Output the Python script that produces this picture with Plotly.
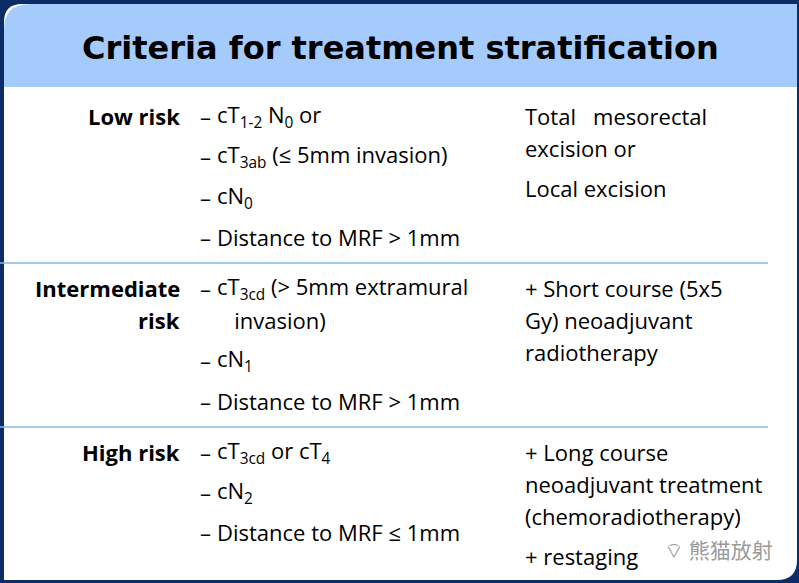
import plotly.graph_objects as go

# slide content
title = "Criteria for treatment stratification"
risk_labels = [["Low risk"], ["Intermediate", "risk"], ["High risk"]]
criteria = [
    ["cT<sub>1-2</sub> N<sub>0</sub> or", "cT<sub>3ab</sub> (≤ 5mm invasion)", "cN<sub>0</sub>",
     "Distance to MRF > 1mm"],
    ["cT<sub>3cd</sub> (> 5mm extramural", "   invasion)", "cN<sub>1</sub>", "Distance to MRF > 1mm"],
    ["cT<sub>3cd</sub> or cT<sub>4</sub>", "cN<sub>2</sub>", "Distance to MRF ≤ 1mm"],
]
criteria_dash = [[1, 1, 1, 1], [1, 0, 1, 1], [1, 1, 1]]
treatments = [
    ["Total   mesorectal", "excision or", "Local excision"],
    ["+ Short course (5x5", "Gy) neoadjuvant", "radiotherapy"],
    ["+ Long course", "neoadjuvant treatment", "(chemoradiotherapy)", "+ restaging"],
]

row_top = [116, 288, 452]
crit_y = [[116, 156, 197, 237], [288, 320, 360, 401], [452, 492, 532]]
treat_y = [[116, 148, 188], [288, 320, 352], [452, 484, 516, 556]]
separators = [263, 427]

font = "Open Sans"
fs = 22

fig = go.Figure()
shapes = [
    dict(type="path", path="M 22 4 L 797 4 L 797 560 Q 797 580 777 580 L 4 580 L 4 22 Q 4 4 22 4 Z",
         fillcolor="white", line=dict(width=0), layer="below"),
    dict(type="path", path="M 30 4 L 797 4 L 797 87 L 4 87 L 4 30 Q 4 4 30 4 Z",
         fillcolor="#a4cbfb", line=dict(width=0), layer="below"),
]
for s in separators:
    shapes.append(dict(type="line", x0=0, x1=768, y0=s, y1=s, line=dict(color="#86b6e8", width=1.5)))

ann = [dict(x=400, y=48, text="<b>" + title + "</b>", showarrow=False,
            font=dict(family="DejaVu Sans", size=32, color="black"))]
for i in range(3):
    for j, lab in enumerate(risk_labels[i]):
        ann.append(dict(x=182, y=row_top[i] + 32 * j, text="<b>" + lab + "</b>", xanchor="right",
                        showarrow=False, font=dict(family=font, size=fs, color="black")))
    for t, y, d in zip(criteria[i], crit_y[i], criteria_dash[i]):
        if d:
            ann.append(dict(x=198, y=y, text="–", xanchor="left", showarrow=False,
                            font=dict(family=font, size=fs, color="black")))
        ann.append(dict(x=215, y=y, text=t, xanchor="left", showarrow=False,
                        font=dict(family=font, size=fs, color="black")))
    for t, y in zip(treatments[i], treat_y[i]):
        ann.append(dict(x=523, y=y, text=t, xanchor="left", showarrow=False,
                        font=dict(family=font, size=fs, color="black")))
ann.append(dict(x=718, y=549, text="⌔ 熊猫放射", xanchor="center", showarrow=False,
                font=dict(family="Noto Sans CJK SC", size=21, color="#9a9a9a")))

fig.update_layout(
    width=799, height=583, margin=dict(l=0, r=0, t=0, b=0),
    paper_bgcolor="#0d2c66", plot_bgcolor="#0d2c66",
    xaxis=dict(range=[0, 799], visible=False, fixedrange=True),
    yaxis=dict(range=[583, 0], visible=False, fixedrange=True),
    shapes=shapes, annotations=ann, showlegend=False,
)
fig.write_html("out.html", config={"displayModeBar": False},
               post_script="document.body.style.margin='0';document.body.style.background='#0d2c66';")
